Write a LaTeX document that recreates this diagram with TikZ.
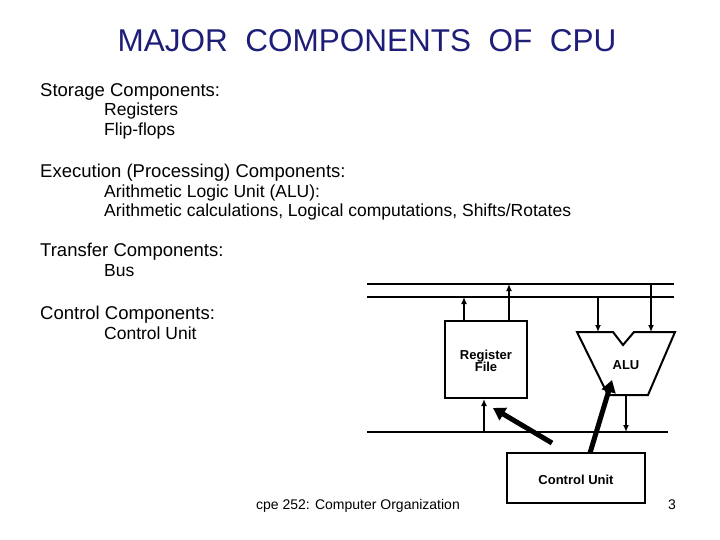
\documentclass[tikz,border=0pt]{standalone}
\usepackage{fontspec}
\usetikzlibrary{arrows.meta}
\setmainfont{Liberation Sans}
\begin{document}
\begin{tikzpicture}[x=1pt,y=-1pt,
 h/.style={anchor=base west,inner sep=0pt,font=\fontsize{18.5}{20}\selectfont},
 s/.style={anchor=base west,inner sep=0pt,font=\fontsize{17.5}{19}\selectfont},
 bus/.style={line width=2.2pt},
 w/.style={line width=2pt,-{Latex[length=7pt,width=6pt]}},
 big/.style={line width=5pt,-{Triangle[length=12pt,width=14pt]}},
 lbl/.style={font=\bfseries\fontsize{13}{15}\selectfont}]
\useasboundingbox (0,0) rectangle (720,540);
\node[anchor=base,inner sep=0pt,text={rgb,255:red,30;green,30;blue,120},font=\fontsize{31.5}{33}\selectfont] (t) at (367,52) {MAJOR\ \ COMPONENTS\ \ OF\ \ CPU};
\node[h] (a) at (40,97) {Storage Components:};
\node[s] (a1) at (104,116) {Registers};
\node[s] (a2) at (104,136) {Flip-flops};
\node[h] (b) at (40,178) {Execution (Processing) Components:};
\node[s] (b1) at (104,197) {Arithmetic Logic Unit (ALU):};
\node[s] (b2) at (104,216) {Arithmetic calculations, Logical computations, Shifts/Rotates};
\node[h] (c) at (40,256) {Transfer Components:};
\node[s] (c1) at (104,276) {Bus};
\node[h] (d) at (40,319) {Control Components:};
\node[s] (d1) at (104,339) {Control Unit};
% buses
\coordinate (b1l) at (367,284); \coordinate (b1r) at (674,284);
\coordinate (b2l) at (367,297); \coordinate (b2r) at (674,297);
\coordinate (b3l) at (367,432); \coordinate (b3r) at (668,432);
\draw[bus] (b1l)--(b1r); \draw[bus] (b2l)--(b2r); \draw[bus] (b3l)--(b3r);
% register file
\node[draw,line width=2pt,minimum width=82pt,minimum height=77pt,inner sep=0pt] (rf) at (486,359.5) {};
\node[lbl,align=center] (rft) at (486,361) {Register\\[-3pt]File};
\draw[w] (rf.north-|464,0) -- (464,297);
\draw[w] (rf.north-|509,0) -- (509,284);
\draw[w] (484,432) -- (rf.south-|484,0);
% ALU
\draw[line width=2pt] (577,332)--(613,332)--(623,345)--(634,332)--(675,332)--(648,395)--(608,395)--cycle;
\node[lbl] (alu) at (626,365) {ALU};
\draw[w] (598,297)--(598,332);
\draw[w] (651,284)--(651,332);
\draw[w] (626,395)--(626,432);
% control unit
\node[draw,line width=2pt,minimum width=138pt,minimum height=50pt,inner sep=0pt] (cu) at (576,478) {};
\node[lbl] (cut) at (576,480) {Control Unit};
\draw[big] (552,443)--(493,408);
\draw[big] (590,453)--(612,380);
\node[anchor=base,font=\fontsize{14}{16}\selectfont] (f) at (358,509) {cpe 252: Computer Organization};
\node[anchor=base,font=\fontsize{14}{16}\selectfont] (n) at (672,509) {3};
\end{tikzpicture}
\end{document}
